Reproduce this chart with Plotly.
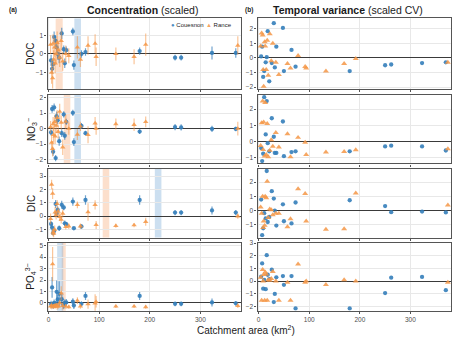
import plotly.graph_objects as go
from plotly.subplots import make_subplots

# ---------------- data ----------------
# catchment areas (km2) of the sampled sites
couesnon_area = [5, 7, 9, 11, 14, 16, 18, 21, 26, 30, 32, 35, 48, 50, 65, 73, 180, 250, 262, 323, 370]
rance_area = [4, 6, 8, 9, 10, 12, 13, 15, 17, 19, 22, 25, 28, 34, 40, 57, 63, 78, 92, 94, 133, 169, 192, 374]

variables = ["DOC", "NO3", "DIC", "PO4"]
var_titles = ["DOC", "NO<sub>3</sub><sup>\u2212</sup>", "DIC", "PO<sub>4</sub><sup>3\u2212</sup>"]

# scaled mean concentrations and their spread
doc_conc_c = [-0.35, -0.8, -0.55, 0.9, 0.7, 0.35, 0.0, -0.2, 1.1, 0.25, -0.5, 0.2, 1.2, -0.6, 0.0, 0.1, 0.15, -0.2, -0.2, 0.05, 0.05]
doc_err_c = [0.3, 0.25, 0.3, 0.3, 0.3, 0.25, 0.3, 0.3, 0.3, 0.2, 0.25, 0.2, 0.2, 0.25, 0.2, 0.2, 0.2, 0.15, 0.15, 0.35, 0.25]
doc_conc_r = [0.5, -1.0, -1.3, 0.55, -0.3, 0.35, -0.5, 0.0, 0.6, 0.2, -0.2, 0.7, -0.4, 0.0, -0.1, 0.35, -0.3, 0.45, 0.55, -0.15, 0.0, -0.15, 0.5, 0.45]
doc_err_r = [0.5, 0.6, 0.55, 0.5, 0.5, 0.5, 0.55, 0.5, 0.6, 0.5, 0.5, 0.5, 0.5, 0.45, 0.4, 0.6, 0.4, 0.5, 0.5, 0.5, 0.35, 0.4, 0.6, 0.5]

no3_conc_c = [-0.25, 1.27, -1.5, 1.37, -1.9, 0.8, 0.54, -0.81, -0.29, 0.92, -0.46, 0.44, 1.02, -0.87, 0.17, -0.29, -0.19, 0.1, 0.08, -0.02, -0.02]
no3_err_c = [0.2, 0.25, 0.25, 0.25, 0.2, 0.3, 0.25, 0.3, 0.25, 0.2, 0.25, 0.2, 0.2, 0.25, 0.2, 0.15, 0.15, 0.2, 0.2, 0.2, 0.15]
no3_conc_r = [0.1, -0.9, -1.3, 0.3, -0.4, 0.44, -0.5, 0.2, 0.7, -0.2, 1.1, 0.4, -1.2, 0.45, 0.0, -0.38, 0.15, -0.4, 0.35, 0.0, 0.3, 0.25, 0.44, 0.0]
no3_err_r = [0.4, 0.5, 0.5, 0.45, 0.5, 0.45, 0.5, 0.5, 0.5, 0.45, 0.5, 0.45, 0.5, 0.45, 0.4, 0.35, 0.3, 0.55, 0.4, 0.4, 0.35, 0.4, 0.35, 0.45]

dic_conc_c = [-0.58, -0.85, -1.25, -1.1, 0.92, 0.2, 0.48, -0.9, 0.85, 0.65, -0.53, -0.6, 1.09, -0.9, -0.77, 1.21, 1.21, 0.27, 0.27, 0.43, 0.27]
dic_err_c = [0.2, 0.25, 0.2, 0.2, 0.3, 0.25, 0.25, 0.2, 0.3, 0.2, 0.2, 0.15, 0.3, 0.1, 0.15, 0.35, 0.35, 0.2, 0.2, 0.3, 0.2]
dic_conc_r = [-0.2, 2.37, 1.69, -1.2, -1.3, -1.0, 0.3, 0.1, 0.92, 0.35, -0.05, -0.25, 0.2, -0.8, -0.75, 0.85, -0.75, 0.31, 0.85, -0.65, -0.72, -0.67, -0.41, 0.0]
dic_err_r = [0.4, 0.35, 0.4, 0.3, 0.3, 0.3, 0.4, 0.35, 0.3, 0.3, 0.3, 0.3, 0.3, 0.2, 0.2, 0.25, 0.2, 0.65, 0.35, 0.3, 0.15, 0.15, 0.3, 0.2]

po4_conc_c = [-0.1, 1.36, -0.2, 0.0, -0.1, 0.97, 0.3, 0.8, 0.33, -0.22, 0.0, 0.05, 0.11, -0.22, -0.08, 0.61, 0.61, -0.08, -0.08, 0.05, -0.03]
po4_err_c = [0.3, 0.9, 0.3, 0.3, 0.3, 1.0, 0.4, 1.1, 0.5, 0.3, 0.3, 0.3, 0.3, 0.3, 0.2, 0.35, 0.35, 0.2, 0.2, 0.35, 0.2]
po4_conc_r = [-0.3, -0.25, 3.39, -0.3, -0.3, -0.25, -0.3, -0.2, -0.3, -0.3, 0.0, 0.85, -0.25, -0.3, -0.35, 0.2, -0.3, -0.1, -0.03, 0.1, -0.3, -0.3, -0.35, -0.25]
po4_err_r = [0.2, 0.3, 1.5, 0.2, 0.2, 0.2, 0.2, 0.2, 0.3, 0.2, 0.3, 0.6, 0.3, 0.2, 0.15, 0.3, 0.2, 0.4, 0.8, 0.5, 0.15, 0.15, 0.15, 0.2]

# scaled coefficient of variation
doc_cv_c = [0.1, 0.77, -1.3, -0.9, -0.3, 0.05, 1.83, -1.6, -0.35, 2.38, -0.65, 0.77, 2.05, -0.9, 0.55, -0.6, -0.9, -0.5, -0.45, -0.35, -0.3]
doc_cv_r = [0.8, 1.7, 1.55, -0.8, -1.95, 1.1, 0.8, -0.8, 1.2, -1.2, 1.65, -0.2, 1.0, -0.3, -1.15, -0.4, -0.7, 0.15, -0.6, -0.7, -0.9, -0.4, -0.05, -0.3]
no3_cv_c = [-0.4, -1.2, -0.75, 2.74, 0.44, 2.5, -0.1, -0.6, 1.44, 0.3, -0.7, -0.7, 1.24, -0.9, -0.65, -0.6, -0.6, -0.3, -0.25, -0.3, -0.55]
no3_cv_r = [-0.25, 1.15, 2.5, -0.5, 1.2, -0.9, 2.4, -0.8, 1.1, -0.95, -0.55, 0.1, -0.3, 0.55, -0.35, 0.48, -0.95, 0.25, -0.05, -0.8, -0.65, -0.62, -0.52, -0.45]
dic_cv_c = [0.78, -1.73, -1.25, -0.18, -0.55, 2.79, -0.8, -0.45, 1.37, 0.85, 0.0, -1.05, 0.44, -0.75, -0.9, 0.57, 0.73, 0.32, -0.11, -0.07, -0.13]
dic_cv_r = [0.25, -0.2, 1.0, -1.2, -0.75, -1.05, 1.0, 0.9, 2.05, -0.5, 0.1, 0.05, -0.3, -0.2, -0.2, -1.14, -0.59, 1.53, 1.19, -0.75, -1.32, -1.28, 1.23, 0.39]
po4_cv_c = [0.35, 1.4, -0.6, 0.1, -0.64, 2.05, 0.5, 0.15, 0.9, -1.66, -1.02, 0.3, 0.4, -0.3, 0.4, -2.17, -2.17, -0.95, 0.27, 0.33, -0.72]
po4_cv_r = [0.3, -1.54, 0.9, 0.0, 0.5, -1.54, 0.7, 0.55, -1.54, 0.1, 0.05, 0.2, 0.75, 0.0, -1.54, -0.1, -1.54, 1.34, -0.1, 0.0, -0.28, 0.1, 0.0, -0.1]

# catchment-area ranges where the scaled concentration stabilises
band_couesnon = {"DOC": (51, 64), "NO3": (51, 64), "DIC": (210, 223), "PO4": (17, 29)}
band_rance = {"DOC": (14, 28), "NO3": (30, 43), "DIC": (107, 120), "PO4": (26, 34)}

# axis settings per row: (tick values, range) for concentration and CV panels
conc_ticks = [[-1, 0, 1], [-2, -1, 0, 1, 2], [-1, 0, 1, 2, 3], [0, 1, 2, 3, 4, 5]]
conc_range = [[-1.9, 1.9], [-2.25, 2.2], [-1.6, 3.55], [-0.68, 5.25]]
cv_ticks = [[-2, -1, 0, 1, 2], [-1, 0, 1, 2], [-1, 0, 1, 2], [-2, -1, 0, 1, 2, 3]]
cv_range = [[-2.15, 2.7], [-1.35, 2.9], [-1.9, 2.95], [-2.35, 3.03]]
x_ticks = [0, 100, 200, 300]

conc_c = [doc_conc_c, no3_conc_c, dic_conc_c, po4_conc_c]
err_c = [doc_err_c, no3_err_c, dic_err_c, po4_err_c]
conc_r = [doc_conc_r, no3_conc_r, dic_conc_r, po4_conc_r]
err_r = [doc_err_r, no3_err_r, dic_err_r, po4_err_r]
cv_c = [doc_cv_c, no3_cv_c, dic_cv_c, po4_cv_c]
cv_r = [doc_cv_r, no3_cv_r, dic_cv_r, po4_cv_r]

# ---------------- style ----------------
W, H = 474, 345
BLUE = "rgba(52,126,186,0.9)"
BLUE_ERR = "rgba(52,126,186,0.7)"
ORANGE = "rgba(245,150,70,0.85)"
ORANGE_ERR = "rgba(245,150,70,0.55)"
BLUE_BAND = "rgba(120,170,215,0.38)"
ORANGE_BAND = "rgba(248,170,120,0.38)"
FONT = "Liberation Sans, Arial, sans-serif"
LW = 1.3  # panel border width

# panel borders in pixels; domains are inset by half a border so the frames sit on them
left_px = (46, 241)
right_px = (256.5, 451.5)
row_px = [(15, 88), (92, 163), (167, 238), (242, 312)]


def xdom(a, b):
    return [(a + LW / 2) / W, (b - LW / 2) / W]


def ydom(top, bottom):
    return [1 - (bottom - LW / 2) / H, 1 - (top + LW / 2) / H]


fig = make_subplots(rows=4, cols=2)

for r in range(4):
    # concentration panel
    fig.add_trace(go.Scatter(
        x=couesnon_area, y=conc_c[r], mode="markers",
        marker=dict(symbol="circle", size=4.3, color=BLUE),
        error_y=dict(type="data", array=err_c[r], color=BLUE_ERR, thickness=1.2, width=0),
        showlegend=False, name="Couesnon"), row=r + 1, col=1)
    fig.add_trace(go.Scatter(
        x=rance_area, y=conc_r[r], mode="markers",
        marker=dict(symbol="triangle-up", size=4.8, color=ORANGE),
        error_y=dict(type="data", array=err_r[r], color=ORANGE_ERR, thickness=1.2, width=0),
        showlegend=False, name="Rance"), row=r + 1, col=1)
    # temporal variance panel
    fig.add_trace(go.Scatter(
        x=couesnon_area, y=cv_c[r], mode="markers",
        marker=dict(symbol="circle", size=4.3, color=BLUE),
        showlegend=False, name="Couesnon"), row=r + 1, col=2)
    fig.add_trace(go.Scatter(
        x=rance_area, y=cv_r[r], mode="markers",
        marker=dict(symbol="triangle-up", size=5.3, color=ORANGE),
        showlegend=False, name="Rance"), row=r + 1, col=2)

    var = variables[r]
    xref = "x" if r == 0 else f"x{2 * r + 1}"
    yref = "y domain" if r == 0 else f"y{2 * r + 1} domain"
    for (lo, hi), col in ((band_rance[var], ORANGE_BAND), (band_couesnon[var], BLUE_BAND)):
        fig.add_shape(type="rect", xref=xref, yref=yref, x0=lo, x1=hi, y0=0, y1=1,
                      fillcolor=col, line_width=0, layer="below")

axis_common = dict(showline=True, mirror=True, linecolor="#555555", linewidth=LW,
                   showgrid=True, gridcolor="#e8e8e8", gridwidth=1,
                   ticks="outside", ticklen=2, tickcolor="#555555", tickwidth=0.8,
                   tickfont=dict(size=6.5, color="#4d4d4d", family=FONT))

for r in range(4):
    top, bottom = row_px[r]
    for c in range(2):
        i = 2 * r + c + 1
        xa = f"xaxis{'' if i == 1 else i}"
        ya = f"yaxis{'' if i == 1 else i}"
        fig.layout[xa].update(domain=xdom(*(left_px if c == 0 else right_px)),
                              range=[-2, 380], tickvals=x_ticks,
                              showticklabels=(r == 3), zeroline=False, **axis_common)
        yt = conc_ticks[r] if c == 0 else cv_ticks[r]
        yr = conc_range[r] if c == 0 else cv_range[r]
        fig.layout[ya].update(domain=ydom(top, bottom), range=yr, tickvals=yt,
                              zeroline=True, zerolinecolor="#3a3a3a", zerolinewidth=1.3,
                              **axis_common)

annotations = [
    dict(text="<b>Concentration</b> (scaled)", x=141.5 / W, y=1 - 7 / H, font=dict(size=10.5)),
    dict(text="<b>Temporal variance</b> (scaled CV)", x=348 / W, y=1 - 7 / H, font=dict(size=10.5)),
    dict(text="<b>(a)</b>", x=12 / W, y=1 - 7 / H, font=dict(size=6.5)),
    dict(text="<b>(b)</b>", x=249 / W, y=1 - 7 / H, font=dict(size=6.5)),
    dict(text="Catchment area (km<sup>2</sup>)", x=246 / W, y=1 - 331 / H, font=dict(size=10)),
    dict(text="<span style='color:%s'>\u25CF</span> Couesnon" % BLUE, x=168 / W, y=1 - 22.5 / H,
         xanchor="left", font=dict(size=6)),
    dict(text="<span style='color:%s'>\u25B2</span> Rance" % ORANGE, x=203 / W, y=1 - 22.5 / H,
         xanchor="left", font=dict(size=6)),
]
# row labels on the left of the concentration panels
for r in range(4):
    top, bottom = row_px[r]
    annotations.append(dict(text=var_titles[r], x=30 / W, y=1 - (top + bottom) / 2 / H,
                            textangle=-90, font=dict(size=10)))

for a in annotations:
    a.setdefault("xanchor", "center")
    a.update(xref="paper", yref="paper", yanchor="middle", showarrow=False)
    a["font"].update(family=FONT, color="#1a1a1a")

fig.update_layout(
    width=W, height=H, margin=dict(l=0, r=0, t=0, b=0),
    paper_bgcolor="white", plot_bgcolor="white",
    font=dict(family=FONT, color="#1a1a1a"),
    annotations=annotations, showlegend=False,
)

fig.write_html("out.html")
